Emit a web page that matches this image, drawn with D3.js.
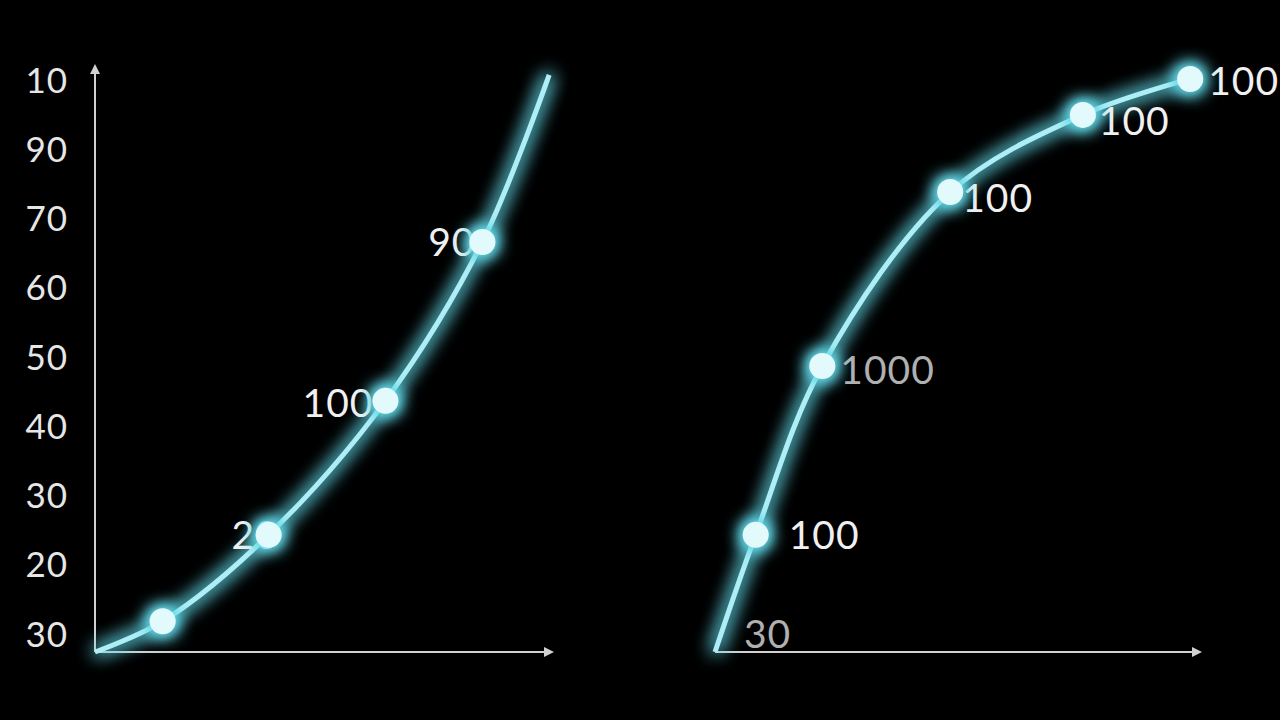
<!DOCTYPE html>
<html>
<head>
<meta charset="utf-8">
<script src="https://cdn.jsdelivr.net/npm/d3@7"></script>
<style>
  html, body { margin: 0; padding: 0; background: #000; }
  svg { display: block; }
</style>
</head>
<body>
<div id="chart"></div>
<script>
// tick labels on the left axis, bottom to top (as printed)
var yTickLabels = ["30", "20", "30", "40", "50", "60", "70", "90", "10"];

// left curve
var leftX = [0, 15, 38.5, 64.4, 85.9, 100.7];
var leftY = [0, 5.3, 20.2, 43.3, 70.7, 99.5];
var leftMarker = [false, true, true, true, true, false];
var leftLabels = ["", "", "20", "100", "90", ""];

// right curve
var rightX = [0, 8.5, 22.4, 49.1, 76.8, 99.2];
var rightY = [0, 20.2, 49.3, 79.3, 92.6, 98.8];
var rightMarker = [false, true, true, true, true, true];
var rightLabels = ["30", "100", "1000", "100", "100", "100"];

var width = 1280, height = 720;
var font = "Lato, 'Noto Sans', sans-serif";

var svg = d3.select("#chart").append("svg")
    .attr("width", width)
    .attr("height", height)
    .style("background", "#000");

var defs = svg.append("defs");

// soft cyan glow (filter region covers the whole canvas so nothing is clipped)
var glow = defs.append("filter")
    .attr("id", "glow")
    .attr("filterUnits", "userSpaceOnUse")
    .attr("x", 0).attr("y", 0)
    .attr("width", width).attr("height", height);
glow.append("feGaussianBlur")
    .attr("in", "SourceGraphic")
    .attr("stdDeviation", 9)
    .attr("result", "blur");
glow.append("feColorMatrix")
    .attr("in", "blur")
    .attr("type", "matrix")
    .attr("values", "0 0 0 0 0.12  0 0 0 0 0.70  0 0 0 0 0.82  0 0 0 1.5 0")
    .attr("result", "tint");
var merge = glow.append("feMerge");
merge.append("feMergeNode").attr("in", "tint");
merge.append("feMergeNode").attr("in", "tint");
merge.append("feMergeNode").attr("in", "SourceGraphic");

defs.append("marker")
    .attr("id", "arrow")
    .attr("viewBox", "0 0 10 10")
    .attr("refX", 2).attr("refY", 5)
    .attr("markerWidth", 5).attr("markerHeight", 5)
    .attr("orient", "auto")
  .append("path")
    .attr("d", "M0,0 L10,5 L0,10 z")
    .attr("fill", "#d0d0d0");

// shared vertical scale
var y = d3.scaleLinear().domain([0, 100]).range([652, 72]);
var yTicks = d3.scalePoint().domain(d3.range(yTickLabels.length)).range([634, 80]);

var panels = [
  { xs: leftX, ys: leftY, markers: leftMarker, labels: leftLabels,
    x: d3.scaleLinear().domain([0, 100]).range([95, 546]), side: "left", yAxis: true },
  { xs: rightX, ys: rightY, markers: rightMarker, labels: rightLabels,
    x: d3.scaleLinear().domain([0, 100]).range([715, 1194]), side: "right", yAxis: false }
];

// per-label nudges (layout only)
var nudges = {
  left:  [[0, 0], [0, 0], [10, 0], [-12, 2], [-7, 0], [0, 0]],
  right: [[29, -18], [33, 0], [18, 4], [12, 6], [16, 6], [18, 2]]
};
var dimLabels = { right: [0, 2] };

// y tick labels
svg.append("g").selectAll("text")
  .data(yTickLabels)
  .enter().append("text")
    .attr("x", 68)
    .attr("y", function(d, i) { return yTicks(i); })
    .attr("dy", "0.36em")
    .attr("text-anchor", "end")
    .attr("font-family", font)
    .attr("font-size", 35)
    .attr("letter-spacing", 1)
    .attr("fill", "#e6e6e6")
    .text(function(d) { return d; });

panels.forEach(function(p) {
  var g = svg.append("g");
  var x0 = p.x.range()[0], x1 = p.x.range()[1];

  // axes
  g.append("line")
      .attr("x1", x0).attr("y1", y(0))
      .attr("x2", x1).attr("y2", y(0))
      .attr("stroke", "#d0d0d0").attr("stroke-width", 2)
      .attr("marker-end", "url(#arrow)");
  if (p.yAxis) {
    g.append("line")
        .attr("x1", x0).attr("y1", y(0))
        .attr("x2", x0).attr("y2", y(100))
        .attr("stroke", "#d0d0d0").attr("stroke-width", 2)
        .attr("marker-end", "url(#arrow)");
  }

  var pts = p.xs.map(function(v, i) {
    return { x: v, y: p.ys[i], marker: p.markers[i], label: p.labels[i], i: i };
  });

  var line = d3.line()
      .x(function(d) { return p.x(d.x); })
      .y(function(d) { return y(d.y); })
      .curve(d3.curveCatmullRom.alpha(0.5));

  g.append("path")
      .datum(pts)
      .attr("d", line)
      .attr("fill", "none")
      .attr("stroke", "#aeeef6")
      .attr("stroke-width", 5)
      .attr("filter", "url(#glow)");

  // labels drawn before the markers so the dots sit over them
  var dims = dimLabels[p.side] || [];
  g.selectAll(".lbl")
    .data(pts.filter(function(d) { return d.label; }))
    .enter().append("text")
      .attr("class", "lbl")
      .attr("x", function(d) { return p.x(d.x) + nudges[p.side][d.i][0]; })
      .attr("y", function(d) { return y(d.y) + nudges[p.side][d.i][1]; })
      .attr("dy", "0.36em")
      .attr("text-anchor", p.side === "left" ? "end" : "start")
      .attr("font-family", font)
      .attr("font-size", 39)
      .attr("letter-spacing", 1)
      .attr("fill", function(d) { return dims.indexOf(d.i) >= 0 ? "#b0b0b0" : "#f0f0f0"; })
      .text(function(d) { return d.label; });

  g.selectAll(".dot")
    .data(pts.filter(function(d) { return d.marker; }))
    .enter().append("circle")
      .attr("class", "dot")
      .attr("cx", function(d) { return p.x(d.x); })
      .attr("cy", function(d) { return y(d.y); })
      .attr("r", 13)
      .attr("fill", "#e2fafc")
      .attr("filter", "url(#glow)");
});
</script>
</body>
</html>
